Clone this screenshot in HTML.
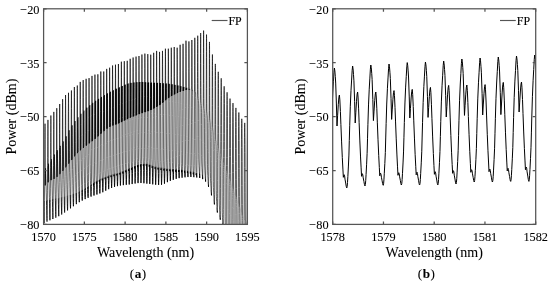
<!DOCTYPE html>
<html><head><meta charset="utf-8"><title>FP spectrum</title>
<style>
html,body{margin:0;padding:0;background:#fff;}
svg{display:block;}
text{font-family:"Liberation Serif",serif;fill:#000;stroke:#000;stroke-width:0.07px;}
.tk{font-size:12.3px;}
.lb{font-size:14px;}
.lg{font-size:11.9px;stroke-width:0.12px;}
.cp{font-size:13.2px;letter-spacing:0.5px;}
</style></head><body>
<svg width="550" height="285" viewBox="0 0 550 285">
<rect width="550" height="285" fill="#fff"/>
<defs>
<clipPath id="ca"><rect x="43.6" y="8.8" width="203.8" height="215.6"/></clipPath>
<path id="wa" d="M41.14 223.34 L41.17 221.53 L41.22 218.65 L41.29 213.6 L41.37 208.19 L41.46 202.78 L41.57 195.57 L41.68 188.35 L41.76 176.22 L41.83 164.09 L41.85 153.17 L41.92 143.47 L41.97 136.19 L42.02 130.43 L42.06 127.7 L42.11 130.73 L42.16 136.8 L42.2 143.47 L42.29 165.3 L42.4 188.35 L42.47 183.19 L42.52 177.41 L42.57 173.81 L42.63 172.71 L42.69 173.65 L42.79 177.41 L42.93 182.1 L43.09 186.01 L43.14 188.35 L43.33 195.28 L43.51 202.2 L43.65 207.39 L43.79 212.58 L43.92 217.43 L43.99 220.2 L44.04 221.93 L44.06 222.97 L44.08 221.85 L44.11 219.98 L44.15 216.98 L44.23 211.75 L44.31 206.14 L44.39 200.53 L44.5 193.05 L44.61 185.57 L44.7 173.19 L44.76 160.82 L44.79 149.68 L44.85 139.79 L44.91 132.36 L44.96 126.48 L45 123.7 L45.05 126.79 L45.1 132.98 L45.14 139.79 L45.23 162.06 L45.34 185.57 L45.4 179.85 L45.46 173.44 L45.5 169.45 L45.56 168.24 L45.63 169.28 L45.73 173.44 L45.87 178.64 L46.02 182.97 L46.08 185.57 L46.26 192.78 L46.45 199.98 L46.59 205.39 L46.72 210.79 L46.85 215.84 L46.93 218.72 L46.97 220.52 L47 221.6 L47.02 220.42 L47.05 218.46 L47.09 215.33 L47.17 209.83 L47.25 203.95 L47.33 198.07 L47.44 190.22 L47.55 182.38 L47.63 169.88 L47.7 157.39 L47.73 146.14 L47.79 136.14 L47.85 128.65 L47.9 122.71 L47.94 119.9 L47.99 123.02 L48.03 129.27 L48.07 136.14 L48.16 158.64 L48.28 182.38 L48.34 176.22 L48.4 169.31 L48.44 165.02 L48.5 163.71 L48.57 164.83 L48.67 169.31 L48.81 174.91 L48.96 179.58 L49.02 182.38 L49.2 189.96 L49.39 197.55 L49.52 203.24 L49.66 208.93 L49.79 214.24 L49.86 217.27 L49.91 219.17 L49.94 220.31 L49.96 219.1 L49.98 217.1 L50.03 213.9 L50.11 208.3 L50.19 202.29 L50.27 196.29 L50.38 188.28 L50.49 180.27 L50.57 167.32 L50.64 154.36 L50.66 142.7 L50.73 132.34 L50.79 124.57 L50.83 118.41 L50.87 115.5 L50.92 118.74 L50.97 125.22 L51.01 132.34 L51.1 155.66 L51.21 180.27 L51.28 173.3 L51.33 165.49 L51.38 160.63 L51.44 159.15 L51.5 160.42 L51.6 165.49 L51.74 171.82 L51.9 177.1 L51.95 180.27 L52.13 188.02 L52.32 195.77 L52.45 201.58 L52.59 207.39 L52.72 212.82 L52.8 215.92 L52.84 217.85 L52.87 219.02 L52.9 217.81 L52.93 215.81 L52.98 212.6 L53.06 206.99 L53.14 200.98 L53.22 194.97 L53.33 186.96 L53.43 178.94 L53.51 165.53 L53.58 152.13 L53.6 140.06 L53.67 129.33 L53.72 121.29 L53.77 114.92 L53.81 111.9 L53.86 115.25 L53.91 121.96 L53.95 129.33 L54.04 153.47 L54.15 178.94 L54.21 170.91 L54.27 161.9 L54.32 156.3 L54.38 154.59 L54.44 156.05 L54.54 161.9 L54.68 169.2 L54.84 175.29 L54.88 178.94 L55.05 186.69 L55.23 194.43 L55.37 200.24 L55.51 206.05 L55.64 211.47 L55.72 214.57 L55.78 216.5 L55.81 217.66 L55.84 216.44 L55.87 214.4 L55.92 211.15 L56.01 205.44 L56.09 199.33 L56.17 193.22 L56.28 185.07 L56.38 176.92 L56.46 163.18 L56.52 149.43 L56.54 137.06 L56.6 126.07 L56.66 117.82 L56.71 111.29 L56.75 108.2 L56.8 111.64 L56.84 118.51 L56.89 126.07 L56.97 150.81 L57.09 176.92 L57.15 168.09 L57.21 158.19 L57.25 152.03 L57.31 150.16 L57.38 151.76 L57.48 158.19 L57.62 166.22 L57.77 172.91 L57.8 176.92 L57.97 184.78 L58.15 192.63 L58.28 198.52 L58.42 204.41 L58.56 209.9 L58.65 213.04 L58.71 215.01 L58.75 216.19 L58.78 214.93 L58.82 212.83 L58.87 209.47 L58.96 203.6 L59.04 197.3 L59.12 191.01 L59.23 182.62 L59.32 174.23 L59.4 160.18 L59.47 146.14 L59.48 133.49 L59.54 122.26 L59.6 113.83 L59.64 107.16 L59.69 104 L59.73 107.51 L59.78 114.53 L59.82 122.26 L59.91 147.54 L60.02 174.23 L60.09 164.86 L60.14 154.35 L60.19 147.82 L60.25 145.83 L60.31 147.54 L60.41 154.35 L60.56 162.87 L60.7 169.97 L60.73 174.23 L60.89 182.28 L61.06 190.33 L61.19 196.37 L61.34 202.41 L61.48 208.05 L61.57 211.27 L61.63 213.28 L61.68 214.49 L61.72 213.19 L61.77 211.01 L61.82 207.54 L61.91 201.45 L62 194.93 L62.08 188.41 L62.17 179.72 L62.27 171.03 L62.34 156.66 L62.41 142.3 L62.41 129.37 L62.48 117.88 L62.53 109.26 L62.58 102.43 L62.62 99.2 L62.67 102.79 L62.72 109.97 L62.76 117.88 L62.85 143.73 L62.96 171.03 L63.03 161.23 L63.09 150.24 L63.14 143.41 L63.2 141.33 L63.26 143.11 L63.36 150.24 L63.5 159.15 L63.63 166.57 L63.65 171.03 L63.81 179.33 L63.97 187.63 L64.11 193.85 L64.25 200.07 L64.39 205.88 L64.49 209.2 L64.56 211.27 L64.62 212.52 L64.67 211.17 L64.71 208.92 L64.78 205.31 L64.87 199.01 L64.95 192.26 L65.03 185.51 L65.12 176.5 L65.21 167.5 L65.29 153 L65.35 138.5 L65.35 125.45 L65.41 113.85 L65.47 105.15 L65.52 98.26 L65.56 95 L65.61 98.62 L65.66 105.87 L65.7 113.85 L65.78 139.95 L65.9 167.5 L65.97 157.21 L66.03 145.68 L66.08 138.51 L66.15 136.33 L66.21 138.2 L66.31 145.68 L66.44 155.03 L66.55 162.82 L66.58 167.5 L66.73 176.08 L66.89 184.67 L67.02 191.1 L67.16 197.54 L67.31 203.55 L67.41 206.99 L67.49 209.13 L67.56 210.42 L67.61 209.02 L67.66 206.69 L67.73 202.96 L67.82 196.43 L67.9 189.43 L67.98 182.44 L68.07 173.11 L68.16 163.79 L68.23 149.59 L68.29 135.39 L68.29 122.61 L68.35 111.26 L68.41 102.74 L68.46 95.99 L68.5 92.8 L68.54 96.35 L68.59 103.45 L68.63 111.26 L68.72 136.81 L68.83 163.79 L68.91 152.73 L68.97 140.33 L69.03 132.62 L69.09 130.27 L69.16 132.28 L69.25 140.33 L69.39 150.38 L69.48 158.76 L69.5 163.79 L69.64 172.7 L69.8 181.62 L69.92 188.3 L70.06 194.99 L70.22 201.23 L70.32 204.79 L70.41 207.02 L70.5 208.36 L70.56 206.91 L70.62 204.49 L70.68 200.63 L70.78 193.87 L70.86 186.62 L70.93 179.38 L71.02 169.72 L71.1 160.06 L71.17 146.15 L71.23 132.24 L71.22 119.72 L71.29 108.59 L71.34 100.24 L71.39 93.63 L71.43 90.5 L71.48 93.98 L71.53 100.93 L71.57 108.59 L71.66 133.63 L71.77 160.06 L71.85 148.62 L71.92 135.79 L71.98 127.81 L72.04 125.38 L72.11 127.46 L72.2 135.79 L72.33 146.19 L72.4 154.86 L72.43 160.06 L72.56 169.3 L72.71 178.54 L72.83 185.46 L72.97 192.39 L73.12 198.85 L73.23 202.55 L73.33 204.86 L73.43 206.24 L73.51 204.75 L73.57 202.26 L73.64 198.28 L73.73 191.32 L73.82 183.85 L73.89 176.39 L73.97 166.44 L74.05 156.49 L74.12 142.59 L74.17 128.69 L74.16 116.18 L74.22 105.07 L74.28 96.73 L74.33 90.13 L74.37 87 L74.42 90.47 L74.47 97.42 L74.51 105.07 L74.6 130.08 L74.71 156.49 L74.78 144.81 L74.86 131.72 L74.92 123.58 L74.99 121.1 L75.06 123.23 L75.15 131.72 L75.28 142.33 L75.33 151.18 L75.35 156.49 L75.48 166.01 L75.62 175.54 L75.74 182.69 L75.87 189.83 L76.03 196.5 L76.14 200.32 L76.24 202.7 L76.37 204.13 L76.46 202.6 L76.53 200.05 L76.6 195.98 L76.69 188.85 L76.77 181.22 L76.84 173.58 L76.92 163.4 L76.99 153.22 L77.06 139.67 L77.12 126.13 L77.1 113.94 L77.16 103.11 L77.22 94.98 L77.27 88.55 L77.31 85.5 L77.36 88.89 L77.4 95.66 L77.44 103.11 L77.53 127.48 L77.65 153.22 L77.72 141.35 L77.8 128.05 L77.87 119.78 L77.94 117.27 L78.01 119.42 L78.1 128.05 L78.22 138.84 L78.25 147.83 L78.28 153.22 L78.4 163.01 L78.53 172.81 L78.64 180.16 L78.77 187.51 L78.93 194.37 L79.05 198.29 L79.15 200.73 L79.31 202.2 L79.42 200.65 L79.49 198.06 L79.56 193.92 L79.66 186.66 L79.73 178.9 L79.8 171.13 L79.87 160.77 L79.94 150.41 L80 136.71 L80.06 123.01 L80.03 110.67 L80.1 99.71 L80.16 91.49 L80.2 84.98 L80.24 81.9 L80.29 85.33 L80.34 92.18 L80.38 99.71 L80.47 124.38 L80.58 150.41 L80.66 138.33 L80.74 124.78 L80.82 116.36 L80.89 113.79 L80.95 115.99 L81.04 124.78 L81.16 135.76 L81.18 144.92 L81.2 150.41 L81.31 160.44 L81.44 170.48 L81.54 178 L81.67 185.53 L81.82 192.55 L81.95 196.57 L82.06 199.08 L82.24 200.58 L82.38 199 L82.45 196.37 L82.53 192.16 L82.62 184.79 L82.69 176.9 L82.75 169 L82.82 158.47 L82.88 147.95 L82.95 134.38 L83 120.81 L82.97 108.6 L83.04 97.74 L83.09 89.6 L83.14 83.15 L83.18 80.1 L83.23 83.49 L83.28 90.28 L83.32 97.74 L83.41 122.17 L83.52 147.95 L83.6 135.62 L83.69 121.81 L83.76 113.22 L83.84 110.6 L83.9 112.84 L83.99 121.81 L84.1 133.01 L84.1 142.35 L84.13 147.95 L84.23 158.18 L84.34 168.42 L84.44 176.1 L84.57 183.77 L84.72 190.94 L84.84 195.03 L84.96 197.59 L85.18 199.13 L85.34 197.52 L85.42 194.85 L85.49 190.57 L85.58 183.09 L85.65 175.07 L85.71 167.05 L85.77 156.36 L85.83 145.67 L85.89 132.29 L85.94 118.92 L85.91 106.88 L85.97 96.19 L86.03 88.16 L86.08 81.81 L86.12 78.8 L86.17 82.14 L86.21 88.83 L86.26 96.19 L86.34 120.26 L86.46 145.67 L86.54 133.14 L86.63 119.09 L86.71 110.36 L86.79 107.71 L86.85 109.98 L86.94 119.09 L87.03 130.48 L87.03 139.97 L87.05 145.67 L87.14 156.09 L87.25 166.52 L87.34 174.34 L87.46 182.16 L87.61 189.46 L87.73 193.63 L87.86 196.24 L88.12 197.8 L88.28 196.17 L88.35 193.45 L88.43 189.11 L88.52 181.5 L88.59 173.35 L88.65 165.2 L88.71 154.33 L88.76 143.47 L88.83 130.39 L88.88 117.32 L88.85 105.55 L88.91 95.1 L88.97 87.25 L89.01 81.04 L89.06 78.1 L89.1 81.37 L89.15 87.91 L89.19 95.1 L89.28 118.63 L89.39 143.47 L89.48 130.81 L89.57 116.62 L89.66 107.8 L89.74 105.11 L89.8 107.42 L89.88 116.62 L89.97 128.13 L89.97 137.71 L89.99 143.47 L90.08 154.09 L90.19 164.71 L90.28 172.68 L90.4 180.64 L90.54 188.08 L90.67 192.33 L90.79 194.98 L91.05 196.57 L91.25 191.75 L91.41 186.32 L91.51 176.06 L91.59 163.99 L91.65 149.51 L91.72 135.03 L91.78 115.72 L91.85 100.03 L91.9 89.78 L91.95 80.12 L91.99 75.9 L92.04 79.17 L92.09 85.7 L92.13 92.89 L92.22 116.41 L92.33 141.25 L92.42 128.57 L92.52 114.36 L92.61 105.52 L92.69 102.83 L92.75 107.78 L92.81 119.32 L92.87 132.52 L92.95 149.83 L93.02 165.5 L93.12 177.04 L93.44 185.29 L93.52 183.79 L93.6 184.59 L93.7 187.54 L93.81 191.05 L93.9 193.86 L93.94 195.03 L93.99 195.5 L94.19 190.66 L94.35 185.22 L94.45 174.95 L94.53 162.86 L94.59 148.35 L94.65 133.84 L94.72 114.5 L94.78 98.78 L94.84 88.5 L94.89 78.83 L94.93 74.6 L94.98 77.81 L95.03 84.24 L95.07 91.32 L95.15 114.46 L95.27 138.89 L95.36 126.31 L95.46 112.21 L95.55 103.45 L95.63 100.78 L95.7 105.74 L95.76 117.31 L95.81 130.54 L95.89 147.9 L95.96 163.61 L96.06 175.18 L96.37 183.45 L96.46 181.95 L96.54 182.75 L96.64 185.96 L96.75 189.73 L96.83 192.74 L96.88 194 L96.93 194.5 L97.12 189.69 L97.29 184.28 L97.38 174.07 L97.46 162.05 L97.53 147.62 L97.59 133.2 L97.66 113.97 L97.72 98.34 L97.78 88.12 L97.83 78.51 L97.87 74.3 L97.91 77.4 L97.96 83.6 L98 90.42 L98.09 112.74 L98.2 136.31 L98.3 123.95 L98.4 110.09 L98.5 101.48 L98.58 98.86 L98.65 103.83 L98.7 115.44 L98.76 128.71 L98.84 146.12 L98.9 161.87 L99 173.48 L99.31 181.77 L99.4 180.27 L99.48 181.07 L99.58 184.49 L99.69 188.45 L99.77 191.61 L99.82 192.93 L99.87 193.45 L100.06 188.58 L100.22 183.09 L100.32 172.72 L100.4 160.53 L100.46 145.89 L100.53 131.26 L100.59 111.74 L100.66 95.89 L100.71 85.52 L100.76 75.77 L100.8 71.5 L100.85 74.61 L100.9 80.82 L100.94 87.66 L101.03 110.03 L101.14 133.64 L101.24 121.54 L101.34 107.97 L101.45 99.54 L101.53 96.97 L101.6 101.97 L101.65 113.65 L101.71 126.99 L101.78 144.5 L101.84 160.34 L101.94 172.01 L102.25 180.35 L102.34 178.85 L102.42 179.65 L102.51 183.14 L102.63 187.15 L102.71 190.36 L102.75 191.7 L102.8 192.24 L103 187.41 L103.16 181.97 L103.26 171.71 L103.34 159.64 L103.4 145.15 L103.47 130.66 L103.53 111.34 L103.59 95.65 L103.65 85.38 L103.7 75.73 L103.74 71.5 L103.79 74.48 L103.84 80.44 L103.88 86.99 L103.97 108.44 L104.08 131.08 L104.18 119.22 L104.29 105.93 L104.39 97.66 L104.48 95.15 L104.55 100.19 L104.6 111.95 L104.66 125.39 L104.73 143.04 L104.79 159 L104.88 170.76 L105.18 179.16 L105.27 177.66 L105.35 178.46 L105.45 181.83 L105.56 185.74 L105.64 188.87 L105.69 190.17 L105.74 190.69 L105.94 185.82 L106.1 180.34 L106.19 169.99 L106.27 157.81 L106.34 143.19 L106.4 128.58 L106.47 109.09 L106.53 93.26 L106.59 82.91 L106.64 73.16 L106.68 68.9 L106.73 71.9 L106.77 77.89 L106.81 84.47 L106.9 106.04 L107.02 128.8 L107.12 117.12 L107.23 104.03 L107.34 95.89 L107.43 93.41 L107.49 98.49 L107.55 110.35 L107.6 123.9 L107.67 141.69 L107.73 157.78 L107.82 169.64 L108.12 178.11 L108.21 176.61 L108.29 177.41 L108.39 180.62 L108.5 184.39 L108.58 187.4 L108.63 188.66 L108.68 189.16 L108.87 184.3 L109.03 178.84 L109.13 168.51 L109.21 156.37 L109.28 141.79 L109.34 127.22 L109.4 107.78 L109.47 91.99 L109.53 81.67 L109.57 71.95 L109.61 67.7 L109.66 70.66 L109.71 76.59 L109.75 83.11 L109.84 104.46 L109.95 126.98 L110.06 115.36 L110.17 102.33 L110.29 94.24 L110.38 91.77 L110.44 96.89 L110.5 108.84 L110.55 122.5 L110.62 140.43 L110.67 156.64 L110.76 168.59 L111.06 177.13 L111.15 175.63 L111.23 176.43 L111.32 179.59 L111.44 183.3 L111.52 186.27 L111.57 187.5 L111.61 188 L111.81 183.1 L111.97 177.59 L112.07 167.17 L112.15 154.92 L112.21 140.22 L112.28 125.52 L112.34 105.92 L112.41 90 L112.46 79.59 L112.51 69.79 L112.55 65.5 L112.6 68.51 L112.65 74.52 L112.69 81.14 L112.78 102.8 L112.89 125.66 L113 113.96 L113.12 100.85 L113.24 92.69 L113.33 90.21 L113.39 95.38 L113.45 107.42 L113.5 121.19 L113.56 139.26 L113.62 155.61 L113.7 167.66 L113.99 176.27 L114.08 174.77 L114.16 175.57 L114.26 178.68 L114.37 182.34 L114.45 185.27 L114.5 186.49 L114.55 186.98 L114.75 182.09 L114.91 176.59 L115 166.19 L115.08 153.97 L115.15 139.29 L115.21 124.62 L115.28 105.05 L115.34 89.16 L115.4 78.76 L115.45 68.98 L115.49 64.7 L115.54 67.69 L115.58 73.68 L115.63 80.27 L115.71 101.83 L115.83 124.58 L115.94 112.75 L116.06 99.49 L116.18 91.24 L116.28 88.73 L116.34 93.93 L116.4 106.07 L116.45 119.95 L116.51 138.15 L116.56 154.63 L116.64 166.76 L116.93 175.44 L117.02 173.94 L117.1 174.74 L117.2 177.84 L117.31 181.5 L117.39 184.43 L117.44 185.65 L117.49 186.14 L117.68 181.25 L117.84 175.75 L117.94 165.37 L118.02 153.16 L118.09 138.5 L118.15 123.85 L118.22 104.3 L118.28 88.43 L118.34 78.05 L118.38 68.27 L118.42 64 L118.47 66.97 L118.52 72.92 L118.56 79.47 L118.65 100.88 L118.76 123.49 L118.88 111.56 L119 98.19 L119.13 89.88 L119.23 87.35 L119.29 92.58 L119.35 104.78 L119.4 118.73 L119.45 137.03 L119.5 153.59 L119.58 165.8 L119.87 174.51 L119.96 173.01 L120.04 173.81 L120.13 177.02 L120.25 180.77 L120.33 183.78 L120.38 185.03 L120.42 185.53 L120.62 180.58 L120.78 175 L120.88 164.48 L120.96 152.1 L121.02 137.24 L121.09 122.38 L121.15 102.56 L121.22 86.47 L121.27 75.94 L121.32 66.03 L121.36 61.7 L121.41 64.72 L121.46 70.77 L121.5 77.42 L121.59 99.19 L121.7 122.16 L121.81 110.22 L121.94 96.84 L122.07 88.52 L122.17 85.99 L122.23 91.23 L122.29 103.47 L122.34 117.46 L122.39 135.83 L122.44 152.44 L122.52 164.68 L122.81 173.43 L122.89 171.93 L122.97 172.73 L123.07 176.15 L123.18 180.11 L123.27 183.28 L123.31 184.6 L123.36 185.13 L123.56 180.17 L123.72 174.59 L123.82 164.06 L123.9 151.67 L123.96 136.8 L124.02 121.92 L124.09 102.1 L124.15 85.99 L124.21 75.45 L124.26 65.54 L124.3 61.2 L124.35 64.17 L124.4 70.12 L124.44 76.66 L124.52 98.06 L124.64 120.65 L124.75 108.75 L124.88 95.41 L125.01 87.12 L125.11 84.6 L125.17 89.85 L125.23 102.12 L125.27 116.14 L125.33 134.55 L125.38 151.19 L125.46 163.46 L125.74 172.23 L125.83 170.73 L125.91 171.53 L126.01 175.23 L126.12 179.46 L126.2 182.84 L126.25 184.25 L126.3 184.81 L126.49 179.85 L126.66 174.27 L126.75 163.73 L126.83 151.33 L126.9 136.45 L126.96 121.57 L127.03 101.72 L127.09 85.6 L127.15 75.06 L127.2 65.14 L127.24 60.8 L127.28 63.72 L127.33 69.55 L127.37 75.96 L127.46 96.96 L127.57 119.12 L127.69 107.35 L127.82 94.16 L127.95 85.96 L128.04 83.47 L128.11 88.72 L128.16 100.97 L128.21 114.98 L128.27 133.36 L128.32 149.99 L128.4 162.25 L128.68 171 L128.77 169.5 L128.85 170.3 L128.95 174.3 L129.06 178.8 L129.14 182.4 L129.19 183.9 L129.24 184.49 L129.43 179.47 L129.59 173.81 L129.69 163.13 L129.77 150.56 L129.83 135.47 L129.9 120.39 L129.96 100.28 L130.03 83.94 L130.08 73.25 L130.13 63.2 L130.17 58.8 L130.22 61.75 L130.27 67.64 L130.31 74.12 L130.4 95.34 L130.51 117.74 L130.62 106.22 L130.75 93.31 L130.88 85.29 L130.98 82.85 L131.04 88.06 L131.1 100.23 L131.15 114.13 L131.21 132.39 L131.25 148.9 L131.33 161.07 L131.62 169.76 L131.71 168.26 L131.79 169.06 L131.88 173.31 L132 178.05 L132.08 181.85 L132.12 183.43 L132.17 184.06 L132.37 179 L132.53 173.3 L132.63 162.54 L132.71 149.89 L132.77 134.7 L132.84 119.51 L132.9 99.26 L132.96 82.81 L133.02 72.05 L133.07 61.93 L133.11 57.5 L133.16 60.45 L133.21 66.35 L133.25 72.84 L133.34 94.08 L133.45 116.5 L133.56 105.26 L133.69 92.65 L133.82 84.81 L133.92 82.43 L133.98 87.58 L134.04 99.61 L134.09 113.36 L134.14 131.41 L134.19 147.73 L134.27 159.76 L134.55 168.36 L134.64 166.86 L134.72 167.66 L134.82 172.19 L134.93 177.19 L135.01 181.19 L135.06 182.85 L135.11 183.52 L135.31 178.44 L135.47 172.73 L135.56 161.94 L135.64 149.25 L135.71 134.02 L135.77 118.79 L135.84 98.48 L135.9 81.98 L135.96 71.2 L136.01 61.04 L136.05 56.6 L136.1 59.54 L136.14 65.41 L136.18 71.87 L136.27 93.02 L136.39 115.34 L136.5 104.38 L136.63 92.09 L136.76 84.45 L136.85 82.13 L136.92 87.23 L136.97 99.13 L137.02 112.73 L137.08 130.57 L137.13 146.72 L137.21 158.62 L137.49 167.12 L137.58 165.62 L137.66 166.42 L137.76 171.22 L137.87 176.46 L137.95 180.65 L138 182.4 L138.05 183.1 L138.24 178.02 L138.4 172.3 L138.5 161.49 L138.58 148.78 L138.65 133.53 L138.71 118.28 L138.77 97.94 L138.84 81.42 L138.9 70.62 L138.94 60.45 L138.98 56 L139.03 58.91 L139.08 64.73 L139.12 71.14 L139.21 92.1 L139.32 114.22 L139.44 103.59 L139.56 91.67 L139.69 84.26 L139.79 82 L139.85 87.07 L139.91 98.88 L139.96 112.39 L140.02 130.12 L140.06 146.16 L140.15 157.98 L140.43 166.42 L140.52 164.92 L140.6 165.72 L140.69 170.71 L140.81 176.14 L140.89 180.48 L140.94 182.29 L140.98 183.02 L141.18 177.88 L141.34 172.09 L141.44 161.17 L141.52 148.32 L141.58 132.9 L141.65 117.47 L141.71 96.91 L141.78 80.2 L141.83 69.28 L141.88 59 L141.92 54.5 L141.97 57.43 L142.02 63.3 L142.06 69.76 L142.15 90.88 L142.26 113.18 L142.37 102.92 L142.5 91.41 L142.63 84.26 L142.73 82.08 L142.79 87.12 L142.85 98.87 L142.9 112.31 L142.95 129.94 L143 145.89 L143.08 157.64 L143.36 166.04 L143.45 164.54 L143.53 165.34 L143.63 170.52 L143.74 176.14 L143.82 180.63 L143.87 182.5 L143.92 183.25 L144.12 178.06 L144.28 172.23 L144.37 161.21 L144.45 148.24 L144.52 132.68 L144.58 117.13 L144.65 96.38 L144.71 79.53 L144.77 68.51 L144.82 58.14 L144.86 53.6 L144.91 56.53 L144.95 62.39 L145 68.84 L145.08 89.95 L145.2 112.23 L145.31 102.35 L145.44 91.27 L145.57 84.39 L145.66 82.29 L145.73 87.31 L145.79 99.02 L145.83 112.4 L145.89 129.96 L145.94 145.84 L146.02 157.55 L146.3 165.91 L146.39 164.41 L146.47 165.21 L146.57 170.56 L146.68 176.32 L146.76 180.93 L146.81 182.85 L146.86 183.62 L147.05 178.44 L147.21 172.61 L147.31 161.6 L147.39 148.65 L147.46 133.11 L147.52 117.56 L147.59 96.84 L147.65 80 L147.71 68.99 L147.75 58.63 L147.79 54.1 L147.84 56.96 L147.89 62.67 L147.93 68.95 L148.02 89.51 L148.13 111.21 L148.25 101.74 L148.38 91.13 L148.5 84.53 L148.6 82.52 L148.67 87.57 L148.72 99.35 L148.77 112.81 L148.83 130.49 L148.88 146.48 L148.96 158.26 L149.24 166.67 L149.33 165.17 L149.41 165.97 L149.5 171.19 L149.62 176.83 L149.7 181.35 L149.75 183.23 L149.79 183.98 L149.99 178.81 L150.15 172.99 L150.25 162 L150.33 149.07 L150.39 133.56 L150.46 118.05 L150.52 97.36 L150.59 80.56 L150.64 69.57 L150.69 59.22 L150.73 54.7 L150.78 57.46 L150.83 62.99 L150.87 69.08 L150.96 88.98 L151.07 109.99 L151.18 100.97 L151.31 90.86 L151.44 84.58 L151.54 82.67 L151.6 87.78 L151.66 99.72 L151.71 113.36 L151.76 131.26 L151.81 147.46 L151.89 159.39 L152.18 167.92 L152.26 166.42 L152.34 167.22 L152.44 172.15 L152.55 177.52 L152.64 181.82 L152.68 183.61 L152.73 184.33 L152.93 179.07 L153.09 173.15 L153.19 161.97 L153.27 148.82 L153.33 133.03 L153.39 117.25 L153.46 96.2 L153.52 79.11 L153.58 67.93 L153.63 57.4 L153.67 52.8 L153.72 55.59 L153.77 61.16 L153.81 67.29 L153.89 87.35 L154.01 108.53 L154.12 100.03 L154.25 90.5 L154.38 84.57 L154.48 82.77 L154.54 87.93 L154.6 99.98 L154.64 113.74 L154.7 131.8 L154.75 148.15 L154.83 160.19 L155.11 168.8 L155.2 167.3 L155.28 168.1 L155.38 172.87 L155.49 178.09 L155.57 182.27 L155.62 184.01 L155.67 184.71 L155.86 179.35 L156.03 173.33 L156.12 161.96 L156.2 148.58 L156.27 132.52 L156.33 116.47 L156.4 95.06 L156.46 77.66 L156.52 66.29 L156.57 55.58 L156.61 50.9 L156.65 53.7 L156.7 59.29 L156.74 65.45 L156.83 85.6 L156.94 106.86 L157.06 98.95 L157.19 90.07 L157.32 84.56 L157.41 82.88 L157.48 88.07 L157.53 100.19 L157.58 114.05 L157.64 132.23 L157.69 148.68 L157.77 160.81 L158.05 169.47 L158.14 167.97 L158.22 168.77 L158.32 173.4 L158.43 178.5 L158.51 182.58 L158.56 184.28 L158.61 184.96 L158.8 179.64 L158.96 173.65 L159.06 162.34 L159.14 149.04 L159.2 133.07 L159.27 117.1 L159.33 95.81 L159.4 78.51 L159.45 67.2 L159.5 56.56 L159.54 51.9 L159.59 54.56 L159.64 59.87 L159.68 65.71 L159.77 84.84 L159.88 105.02 L159.99 97.76 L160.12 89.62 L160.25 84.56 L160.35 83.02 L160.41 88.24 L160.47 100.43 L160.52 114.35 L160.58 132.62 L160.62 149.16 L160.7 161.34 L160.99 170.04 L161.08 168.54 L161.16 169.34 L161.25 173.75 L161.37 178.63 L161.45 182.53 L161.49 184.16 L161.54 184.81 L161.74 179.46 L161.9 173.43 L162 162.05 L162.08 148.66 L162.14 132.59 L162.21 116.52 L162.27 95.09 L162.33 77.68 L162.39 66.3 L162.44 55.59 L162.48 50.9 L162.53 53.49 L162.58 58.68 L162.62 64.39 L162.71 83.07 L162.82 102.79 L162.93 96.34 L163.06 89.1 L163.19 84.61 L163.29 83.24 L163.35 88.48 L163.41 100.69 L163.46 114.65 L163.51 132.98 L163.56 149.56 L163.64 161.78 L163.92 170.5 L164.01 169 L164.09 169.8 L164.19 173.7 L164.3 178.11 L164.38 181.63 L164.43 183.1 L164.48 183.69 L164.68 178.29 L164.84 172.22 L164.93 160.74 L165.01 147.24 L165.08 131.04 L165.14 114.85 L165.21 93.25 L165.27 75.7 L165.33 64.22 L165.38 53.42 L165.42 48.7 L165.47 51.28 L165.51 56.43 L165.55 62.09 L165.64 80.64 L165.76 100.22 L165.87 94.71 L166 88.54 L166.13 84.7 L166.22 83.54 L166.29 88.77 L166.34 101 L166.39 114.97 L166.45 133.3 L166.5 149.89 L166.58 162.11 L166.86 170.84 L166.95 169.34 L167.03 170.14 L167.13 173.44 L167.24 177.28 L167.32 180.36 L167.37 181.64 L167.42 182.15 L167.61 176.81 L167.77 170.81 L167.87 159.46 L167.95 146.12 L168.02 130.1 L168.08 114.09 L168.14 92.74 L168.21 75.39 L168.27 64.05 L168.31 53.37 L168.35 48.7 L168.4 51.16 L168.45 56.07 L168.49 61.47 L168.58 79.16 L168.69 97.83 L168.81 93.23 L168.93 88.07 L169.06 84.87 L169.16 83.89 L169.22 89.12 L169.28 101.34 L169.33 115.29 L169.39 133.61 L169.43 150.19 L169.52 162.4 L169.8 171.12 L169.89 169.62 L169.97 170.42 L170.06 173.22 L170.18 176.6 L170.26 179.3 L170.31 180.43 L170.35 180.88 L170.55 175.55 L170.71 169.56 L170.81 158.24 L170.89 144.92 L170.95 128.94 L171.02 112.96 L171.08 91.65 L171.15 74.34 L171.2 63.02 L171.25 52.36 L171.29 47.7 L171.34 50.11 L171.39 54.94 L171.43 60.25 L171.52 77.63 L171.63 95.97 L171.74 92.12 L171.87 87.81 L172 85.13 L172.1 84.32 L172.16 89.54 L172.22 101.73 L172.27 115.66 L172.32 133.95 L172.37 150.49 L172.45 162.68 L172.73 171.39 L172.82 169.89 L172.9 170.69 L173 173.07 L173.11 176.06 L173.19 178.45 L173.24 179.44 L173.29 179.84 L173.49 174.53 L173.65 168.55 L173.74 157.26 L173.82 143.97 L173.89 128.03 L173.95 112.09 L174.02 90.84 L174.08 73.57 L174.14 62.28 L174.19 51.65 L174.23 47 L174.28 49.37 L174.32 54.1 L174.37 59.31 L174.45 76.34 L174.57 94.33 L174.68 91.21 L174.81 87.71 L174.94 85.54 L175.03 84.87 L175.1 90.08 L175.16 102.23 L175.2 116.12 L175.26 134.35 L175.31 150.84 L175.39 162.99 L175.67 171.67 L175.76 170.17 L175.84 170.97 L175.94 172.95 L176.05 175.57 L176.13 177.66 L176.18 178.53 L176.23 178.87 L176.42 173.63 L176.58 167.72 L176.68 156.57 L176.76 143.46 L176.83 127.72 L176.89 111.98 L176.96 90.99 L177.02 73.93 L177.08 62.78 L177.12 52.29 L177.16 47.7 L177.21 49.96 L177.26 54.48 L177.3 59.46 L177.39 75.74 L177.5 92.93 L177.62 90.48 L177.75 87.74 L177.87 86.04 L177.97 85.52 L178.04 90.71 L178.09 102.8 L178.14 116.63 L178.2 134.77 L178.25 151.19 L178.33 163.29 L178.61 171.93 L178.7 170.43 L178.78 171.23 L178.87 172.9 L178.99 175.21 L179.07 177.06 L179.12 177.83 L179.16 178.14 L179.36 172.81 L179.52 166.81 L179.62 155.47 L179.7 142.14 L179.76 126.14 L179.83 110.14 L179.89 88.8 L179.96 71.47 L180.01 60.13 L180.06 49.47 L180.1 44.8 L180.15 47.15 L180.2 51.85 L180.24 57.03 L180.33 73.95 L180.44 91.82 L180.55 89.97 L180.68 87.9 L180.81 86.61 L180.91 86.22 L180.97 91.38 L181.03 103.42 L181.08 117.18 L181.13 135.24 L181.18 151.58 L181.26 163.62 L181.55 172.22 L181.63 170.72 L181.71 171.52 L181.81 172.95 L181.92 175.04 L182.01 176.71 L182.05 177.41 L182.1 177.69 L182.3 172.33 L182.46 166.31 L182.56 154.93 L182.64 141.54 L182.7 125.47 L182.76 109.41 L182.83 87.98 L182.89 70.58 L182.95 59.2 L183 48.49 L183.04 43.8 L183.09 46.15 L183.14 50.85 L183.18 56.02 L183.26 72.95 L183.38 90.82 L183.49 89.54 L183.62 88.11 L183.75 87.22 L183.85 86.95 L183.91 92.09 L183.97 104.08 L184.01 117.78 L184.07 135.76 L184.12 152.03 L184.2 164.02 L184.48 172.58 L184.57 171.08 L184.65 171.88 L184.75 173.07 L184.86 174.94 L184.94 176.44 L184.99 177.06 L185.04 177.31 L185.23 171.84 L185.4 165.7 L185.49 154.08 L185.57 140.42 L185.64 124.03 L185.7 107.64 L185.77 85.78 L185.83 68.02 L185.89 56.41 L185.94 45.48 L185.98 40.7 L186.02 43.16 L186.07 48.09 L186.11 53.51 L186.2 71.24 L186.31 89.96 L186.43 89.25 L186.56 88.45 L186.69 87.96 L186.78 87.8 L186.85 92.92 L186.9 104.85 L186.95 118.49 L187.01 136.4 L187.06 152.59 L187.14 164.53 L187.42 173.05 L187.51 171.55 L187.59 172.35 L187.69 173.31 L187.8 174.97 L187.88 176.29 L187.93 176.84 L187.98 177.06 L188.17 171.63 L188.33 165.53 L188.43 154 L188.51 140.43 L188.57 124.15 L188.64 107.87 L188.7 86.17 L188.77 68.53 L188.82 57 L188.87 46.15 L188.91 41.4 L188.96 43.81 L189.01 48.62 L189.05 53.91 L189.14 71.23 L189.25 89.52 L189.36 89.31 L189.49 89.07 L189.62 88.93 L189.72 88.88 L189.78 93.97 L189.84 105.83 L189.89 119.39 L189.95 137.19 L189.99 153.3 L190.07 165.16 L190.36 173.64 L190.45 172.14 L190.53 172.94 L190.62 173.7 L190.74 175.16 L190.82 176.33 L190.86 176.81 L190.91 177.01 L191.11 171.53 L191.27 165.36 L191.37 153.72 L191.45 140.02 L191.51 123.58 L191.58 107.13 L191.64 85.21 L191.7 67.4 L191.76 55.76 L191.81 44.8 L191.85 40 L191.9 42.51 L191.95 47.54 L191.99 53.07 L192.08 71.17 L192.19 90.28 L192.3 90.28 L192.43 90.28 L192.56 90.28 L192.66 90.28 L192.72 95.32 L192.78 107.09 L192.83 120.54 L192.88 138.19 L192.93 154.16 L193.01 165.93 L193.29 174.34 L193.38 172.84 L193.46 173.64 L193.56 174.22 L193.67 175.52 L193.75 176.56 L193.8 176.99 L193.85 177.16 L194.05 171.59 L194.21 165.32 L194.3 153.47 L194.38 139.53 L194.45 122.81 L194.51 106.09 L194.58 83.79 L194.64 65.67 L194.7 53.83 L194.75 42.68 L194.79 37.8 L194.84 40.55 L194.88 46.04 L194.92 52.08 L195.01 71.86 L195.13 92.74 L195.24 92.7 L195.37 92.66 L195.5 92.63 L195.59 92.62 L195.66 97.57 L195.71 109.13 L195.76 122.33 L195.82 139.66 L195.87 155.34 L195.95 166.89 L196.23 175.14 L196.32 173.64 L196.4 174.44 L196.5 174.87 L196.61 176.02 L196.69 176.95 L196.74 177.33 L196.79 177.48 L196.83 175.03 L196.89 170.94 L196.97 165.22 L197.03 159.49 L197.06 152.95 L197.1 136.6 L197.12 120.25 L197.15 107.98 L197.17 103.9 L197.2 100.63 L197.28 98.17 L197.34 95.72 L197.4 89.72 L197.45 83.72 L197.48 77.71 L197.51 71.71 L197.54 62.71 L197.58 53.71 L197.6 48.9 L197.63 44.7 L197.65 41.7 L197.68 38.7 L197.7 36.9 L197.72 35.7 L197.75 36.9 L197.77 38.7 L197.8 41.7 L197.82 44.7 L197.85 48.9 L197.87 53.71 L197.9 62.71 L197.94 71.71 L197.97 77.71 L198 83.72 L198.04 89.72 L198.11 95.72 L198.25 98.19 L198.46 100.65 L198.54 103.94 L198.57 108.05 L198.62 120.39 L198.64 136.83 L198.7 153.28 L198.76 159.86 L198.98 165.61 L199.31 171.37 L199.57 175.48 L199.72 177.95 L199.76 175.64 L199.83 171.8 L199.91 166.41 L199.97 161.03 L200 154.88 L200.03 139.49 L200.05 124.11 L200.09 112.58 L200.1 108.73 L200.14 105.65 L200.21 103.35 L200.27 101.04 L200.34 94.24 L200.39 87.45 L200.42 80.66 L200.45 73.86 L200.48 63.67 L200.52 53.48 L200.54 48.05 L200.56 43.29 L200.58 39.89 L200.61 36.5 L200.64 34.46 L200.66 33.1 L200.68 34.46 L200.71 36.5 L200.74 39.89 L200.76 43.29 L200.78 48.05 L200.81 53.48 L200.84 63.67 L200.87 73.86 L200.9 80.66 L200.93 87.45 L200.97 94.24 L201.05 101.04 L201.19 103.38 L201.4 105.72 L201.48 108.85 L201.51 112.75 L201.56 124.46 L201.58 140.08 L201.63 155.7 L201.7 161.94 L201.92 167.41 L202.24 172.87 L202.51 176.78 L202.66 179.12 L202.7 176.93 L202.77 173.29 L202.85 168.19 L202.91 163.08 L202.94 157.25 L202.97 142.67 L202.99 128.09 L203.02 117.15 L203.04 113.51 L203.08 110.59 L203.15 108.4 L203.21 106.22 L203.28 98.66 L203.32 91.09 L203.36 83.53 L203.38 75.97 L203.42 64.63 L203.45 53.29 L203.48 47.24 L203.5 41.94 L203.52 38.16 L203.55 34.38 L203.58 32.11 L203.6 30.6 L203.62 32.11 L203.65 34.38 L203.67 38.16 L203.69 41.94 L203.72 47.24 L203.74 53.29 L203.78 64.63 L203.81 75.97 L203.84 83.53 L203.87 91.09 L203.91 98.66 L203.99 106.22 L204.13 108.48 L204.33 110.74 L204.42 113.75 L204.45 117.52 L204.49 128.83 L204.52 143.9 L204.57 158.97 L204.64 165 L204.85 170.28 L205.18 175.55 L205.44 179.32 L205.6 181.58 L205.64 179.48 L205.7 175.97 L205.78 171.06 L205.84 166.15 L205.87 160.54 L205.91 146.5 L205.93 132.47 L205.96 121.95 L205.98 118.44 L206.01 115.63 L206.09 113.53 L206.15 111.42 L206.22 103.74 L206.26 96.06 L206.29 88.38 L206.32 80.69 L206.35 69.17 L206.39 57.65 L206.41 51.5 L206.44 46.12 L206.46 42.28 L206.49 38.44 L206.51 36.14 L206.53 34.6 L206.56 36.14 L206.58 38.44 L206.61 42.28 L206.63 46.12 L206.66 51.5 L206.68 57.65 L206.72 69.17 L206.75 80.69 L206.78 88.38 L206.81 96.06 L206.84 103.74 L206.92 111.42 L207.06 113.69 L207.27 115.95 L207.36 118.97 L207.38 122.74 L207.43 134.06 L207.46 149.15 L207.51 164.24 L207.57 170.28 L207.79 175.56 L208.12 180.84 L208.38 184.62 L208.53 186.88 L208.57 184.82 L208.64 181.39 L208.72 176.58 L208.78 171.78 L208.81 166.28 L208.84 152.55 L208.86 138.82 L208.9 128.52 L208.92 125.08 L208.95 122.34 L209.03 120.28 L209.08 118.22 L209.16 110.59 L209.2 102.95 L209.23 95.32 L209.26 87.69 L209.29 76.24 L209.33 64.8 L209.35 58.69 L209.38 53.35 L209.4 49.53 L209.42 45.72 L209.45 43.43 L209.47 41.9 L209.49 43.43 L209.52 45.72 L209.55 49.53 L209.57 53.35 L209.59 58.69 L209.62 64.8 L209.65 76.24 L209.69 87.69 L209.71 95.32 L209.74 102.95 L209.78 110.59 L209.86 118.22 L210 120.53 L210.21 122.85 L210.29 125.93 L210.32 129.79 L210.37 141.36 L210.39 156.79 L210.44 172.22 L210.51 178.4 L210.73 183.8 L211.06 189.2 L211.32 193.06 L211.47 195.37 L211.51 193.34 L211.57 189.94 L211.65 185.19 L211.7 180.43 L211.73 175 L211.76 161.41 L211.78 147.82 L211.81 137.63 L211.83 134.24 L211.86 131.52 L211.92 129.48 L211.98 127.44 L212.05 120.15 L212.09 112.86 L212.13 105.56 L212.15 98.27 L212.19 87.33 L212.22 76.38 L212.25 70.55 L212.28 65.44 L212.31 61.79 L212.35 58.15 L212.38 55.96 L212.41 54.5 L212.44 55.96 L212.47 58.15 L212.51 61.79 L212.53 65.44 L212.56 70.55 L212.59 76.38 L212.63 87.33 L212.66 98.27 L212.69 105.56 L212.72 112.86 L212.76 120.15 L212.84 127.44 L212.97 129.75 L213.16 132.06 L213.23 135.14 L213.26 138.99 L213.31 150.53 L213.33 165.91 L213.38 181.3 L213.45 187.46 L213.66 192.84 L213.99 198.23 L214.25 202.08 L214.41 204.38 L214.44 202.45 L214.5 199.21 L214.57 194.67 L214.62 190.14 L214.64 184.96 L214.67 172.01 L214.69 159.05 L214.71 149.34 L214.73 146.1 L214.76 143.51 L214.81 141.57 L214.86 139.62 L214.93 132.05 L214.98 124.48 L215.01 116.91 L215.04 109.33 L215.07 97.98 L215.11 86.62 L215.15 80.56 L215.19 75.26 L215.22 71.47 L215.27 67.69 L215.31 65.41 L215.35 63.9 L215.38 65.41 L215.43 67.69 L215.47 71.47 L215.5 75.26 L215.54 80.56 L215.58 86.62 L215.62 97.98 L215.65 109.33 L215.68 116.91 L215.71 124.48 L215.75 132.05 L215.83 139.62 L215.94 141.81 L216.1 144 L216.17 146.91 L216.2 150.56 L216.24 161.49 L216.27 176.06 L216.32 190.64 L216.38 196.47 L216.6 201.57 L216.93 206.67 L217.19 210.31 L217.35 212.5 L217.38 210.59 L217.43 207.4 L217.49 202.94 L217.54 198.48 L217.56 193.38 L217.58 180.63 L217.6 167.88 L217.62 158.32 L217.63 155.14 L217.66 152.59 L217.7 150.67 L217.74 148.76 L217.81 141.07 L217.86 133.37 L217.9 125.67 L217.93 117.98 L217.96 106.43 L218 94.89 L218.04 88.73 L218.09 83.34 L218.13 79.5 L218.19 75.65 L218.24 73.34 L218.28 71.8 L218.33 73.34 L218.38 75.65 L218.43 79.5 L218.48 83.34 L218.52 88.73 L218.56 94.89 L218.61 106.43 L218.64 117.98 L218.67 125.67 L218.7 133.37 L218.74 141.07 L218.82 148.76 L218.92 150.89 L219.05 153.02 L219.11 155.85 L219.14 159.4 L219.18 170.04 L219.21 184.23 L219.26 198.41 L219.32 204.09 L219.54 209.05 L219.87 214.02 L220.13 217.57 L220.28 219.69 L220.31 217.82 L220.36 214.68 L220.41 210.3 L220.46 205.91 L220.47 200.9 L220.5 188.36 L220.51 175.83 L220.53 166.43 L220.54 163.29 L220.56 160.78 L220.59 158.9 L220.63 157.02 L220.7 149.15 L220.75 141.28 L220.78 133.41 L220.81 125.53 L220.85 113.73 L220.89 101.92 L220.94 95.62 L220.99 90.11 L221.04 86.17 L221.11 82.24 L221.17 79.87 L221.22 78.3 L221.27 79.87 L221.33 82.24 L221.4 86.17 L221.45 90.11 L221.5 95.62 L221.55 101.92 L221.59 113.73 L221.63 125.53 L221.66 133.41 L221.69 141.28 L221.73 149.15 L221.81 157.02 L221.89 159.16 L222 161.29 L222.05 164.13 L222.08 167.69 L222.12 178.36 L222.14 192.58 L222.19 206.8 L222.26 212.49 L222.47 217.46 L222.8 222.44 L223.07 226 L223.22 228.13 L223.25 226.25 L223.29 223.12 L223.34 218.73 L223.37 214.34 L223.39 209.33 L223.41 196.79 L223.42 184.25 L223.43 174.84 L223.44 171.71 L223.46 169.2 L223.49 167.32 L223.51 165.44 L223.58 157.53 L223.63 149.61 L223.67 141.7 L223.7 133.78 L223.74 121.91 L223.79 110.04 L223.84 103.71 L223.9 98.17 L223.95 94.21 L224.03 90.26 L224.1 87.88 L224.16 86.3 L224.22 87.88 L224.29 90.26 L224.36 94.21 L224.42 98.17 L224.48 103.71 L224.53 110.04 L224.58 121.91 L224.61 133.78 L224.64 141.7 L224.68 149.61 L224.72 157.53 L224.8 165.44 L224.86 167.63 L224.95 169.82 L224.99 172.74 L225.01 176.39 L225.06 187.33 L225.08 201.92 L225.13 216.52 L225.19 222.35 L225.41 227.46 L225.74 232.57 L226 236.22 L226.16 238.41 L226.18 236.46 L226.22 233.22 L226.28 228.68 L226.31 224.13 L226.33 218.94 L226.35 205.96 L226.36 192.99 L226.37 183.25 L226.38 180.01 L226.39 177.41 L226.42 175.46 L226.45 173.52 L226.52 165.4 L226.57 157.27 L226.61 149.15 L226.64 141.03 L226.67 128.85 L226.72 116.67 L226.77 110.17 L226.84 104.48 L226.89 100.42 L226.96 96.36 L227.04 93.92 L227.09 92.3 L227.15 93.92 L227.22 96.36 L227.3 100.42 L227.35 104.48 L227.41 110.17 L227.46 116.67 L227.51 128.85 L227.55 141.03 L227.58 149.15 L227.61 157.27 L227.66 165.4 L227.74 173.52 L227.8 175.68 L227.89 177.83 L227.93 180.71 L227.95 184.31 L227.99 195.1 L228.02 209.49 L228.07 223.88 L228.13 229.63 L228.35 234.67 L228.68 239.71 L228.94 243.3 L229.09 245.46 L229.12 243.55 L229.16 240.35 L229.21 235.88 L229.25 231.41 L229.27 226.3 L229.28 213.52 L229.29 200.75 L229.31 191.17 L229.32 187.97 L229.33 185.42 L229.36 183.5 L229.39 181.59 L229.45 173.29 L229.51 164.99 L229.55 156.69 L229.58 148.39 L229.61 135.94 L229.66 123.5 L229.71 116.86 L229.77 111.05 L229.83 106.9 L229.9 102.75 L229.97 100.26 L230.03 98.6 L230.09 100.26 L230.16 102.75 L230.23 106.9 L230.29 111.05 L230.35 116.86 L230.4 123.5 L230.45 135.94 L230.48 148.39 L230.51 156.69 L230.55 164.99 L230.6 173.29 L230.68 181.59 L230.74 183.64 L230.82 185.69 L230.86 188.43 L230.89 191.85 L230.93 202.12 L230.95 215.81 L231.01 229.5 L231.07 234.97 L231.28 239.76 L231.61 244.55 L231.88 247.97 L232.03 250.03 L232.06 248.22 L232.1 245.2 L232.15 240.97 L232.19 236.75 L232.2 231.92 L232.22 219.85 L232.23 207.77 L232.25 198.72 L232.25 195.7 L232.27 193.28 L232.3 191.47 L232.32 189.66 L232.39 181.01 L232.44 172.35 L232.48 163.69 L232.51 155.04 L232.55 142.05 L232.6 129.07 L232.65 122.14 L232.71 116.08 L232.76 111.76 L232.84 107.43 L232.91 104.83 L232.97 103.1 L233.03 104.83 L233.1 107.43 L233.17 111.76 L233.23 116.08 L233.29 122.14 L233.34 129.07 L233.39 142.05 L233.42 155.04 L233.45 163.69 L233.49 172.35 L233.53 181.01 L233.61 189.66 L233.67 191.55 L233.76 193.44 L233.8 195.95 L233.83 199.1 L233.87 208.54 L233.89 221.12 L233.94 233.7 L234.01 238.74 L234.22 243.14 L234.55 247.54 L234.81 250.69 L234.97 252.58 L234.99 250.93 L235.03 248.19 L235.09 244.35 L235.12 240.51 L235.14 236.13 L235.16 225.16 L235.17 214.19 L235.18 205.96 L235.19 203.22 L235.21 201.03 L235.23 199.38 L235.26 197.74 L235.33 188.75 L235.38 179.77 L235.42 170.79 L235.45 161.8 L235.49 148.33 L235.53 134.85 L235.58 127.66 L235.65 121.38 L235.7 116.88 L235.78 112.39 L235.85 109.7 L235.91 107.9 L235.96 109.7 L236.03 112.39 L236.11 116.88 L236.16 121.38 L236.23 127.66 L236.28 134.85 L236.32 148.33 L236.36 161.8 L236.39 170.79 L236.42 179.77 L236.47 188.75 L236.55 197.74 L236.61 199.45 L236.7 201.17 L236.74 203.45 L236.76 206.31 L236.8 214.88 L236.83 226.31 L236.88 237.73 L236.94 242.3 L237.16 246.3 L237.49 250.3 L237.75 253.16 L237.9 254.87 L237.93 253.4 L237.97 250.96 L238.02 247.53 L238.06 244.1 L238.08 240.18 L238.09 230.38 L238.1 220.58 L238.12 213.23 L238.13 210.78 L238.14 208.82 L238.17 207.35 L238.2 205.88 L238.27 196.54 L238.32 187.21 L238.36 177.87 L238.39 168.53 L238.42 154.52 L238.47 140.51 L238.52 133.04 L238.58 126.51 L238.64 121.84 L238.71 117.17 L238.78 114.37 L238.84 112.5 L238.9 114.37 L238.97 117.17 L239.05 121.84 L239.1 126.51 L239.16 133.04 L239.21 140.51 L239.26 154.52 L239.3 168.53 L239.33 177.87 L239.36 187.21 L239.4 196.54 L239.49 205.88 L239.55 207.41 L239.63 208.94 L239.68 210.98 L239.7 213.53 L239.74 221.18 L239.76 231.39 L239.82 241.59 L239.88 245.67 L240.09 249.24 L240.42 252.81 L240.69 255.36 L240.84 256.89 L240.87 255.61 L240.91 253.46 L240.96 250.46 L241 247.46 L241.01 244.03 L241.03 235.45 L241.04 226.87 L241.06 220.44 L241.07 218.3 L241.08 216.58 L241.11 215.3 L241.13 214.01 L241.21 204.49 L241.26 194.97 L241.3 185.45 L241.33 175.93 L241.36 161.64 L241.41 147.36 L241.46 139.75 L241.52 133.08 L241.58 128.32 L241.65 123.56 L241.72 120.7 L241.78 118.8 L241.84 120.7 L241.91 123.56 L241.98 128.32 L242.04 133.08 L242.1 139.75 L242.15 147.36 L242.2 161.64 L242.23 175.93 L242.26 185.45 L242.29 194.97 L242.34 204.49 L242.42 214.01 L242.48 215.35 L242.57 216.69 L242.61 218.47 L242.64 220.7 L242.68 227.39 L242.7 236.31 L242.75 245.23 L242.82 248.8 L243.03 251.92 L243.36 255.04 L243.62 257.27 L243.78 258.61 L243.8 257.51 L243.85 255.67 L243.9 253.1 L243.93 250.53 L243.95 247.6 L243.97 240.25 L243.98 232.91 L243.99 227.4 L244 225.56 L244.02 224.1 L244.05 222.99 L244.07 221.89 L244.15 211.99 L244.2 202.09 L244.23 192.19 L244.26 182.3 L244.3 167.45 L244.35 152.6 L244.4 144.68 L244.46 137.75 L244.51 132.8 L244.59 127.85 L244.66 124.88 L244.72 122.9 L244.77 124.88 L244.85 127.85 L244.92 132.8 L244.97 137.75 L245.04 144.68 L245.09 152.6 L245.14 167.45 L245.17 182.3 L245.2 192.19 L245.23 202.09 L245.27 211.99 L245.36 221.89 L245.42 223.04 L245.51 224.18 L245.55 225.7 L245.57 227.61 L245.61 233.33 L245.64 240.95 L245.69 248.57 L245.75 251.62 L245.97 254.29 L246.3 256.96 L246.56 258.86 L246.72 260 L246.74 259.09 L246.78 257.57 L246.83 255.44 L246.87 253.31 L246.89 250.87 L246.9 244.79 L246.91 238.7 L246.93 234.14 L246.94 232.61 L246.95 231.4 L246.99 230.48 L247.01 229.57 L247.09 219.3 L247.14 209.04 L247.17 198.77 L247.2 188.5 L247.23 173.1 L247.28 157.7 L247.33 149.49 L247.39 142.3 L247.45 137.17 L247.52 132.03 L247.59 128.95 L247.65 126.9 L247.71 128.95 L247.78 132.03 L247.86 137.17 L247.91 142.3 L247.97 149.49 L248.02 157.7 L248.07 173.1 L248.11 188.5 L248.14 198.77 L248.17 209.04 L248.21 219.3 L248.3 229.57 L248.35 230.51 L248.44 231.46 L248.49 232.72 L248.51 234.29 L248.55 239.01 L248.58 245.31 L248.63 251.61 L248.69 254.12 L248.91 256.33 L249.24 258.53 L249.5 260.1 L249.65 261.05"/>
<clipPath id="cu"><path d="M41.6 0 L249.4 0 L249.4 224.4 L247.65 224.4 L245.91 224.4 L244.16 219.93 L242.42 215.24 L240.67 210.45 L238.92 205.61 L237.18 200.75 L235.43 195.93 L233.68 191.13 L231.94 186.33 L230.19 181.53 L228.45 176.72 L226.7 171.94 L224.95 167.15 L223.21 162.25 L221.46 157.22 L219.71 152.19 L217.97 147.4 L216.22 142.23 L214.48 135.55 L212.73 128.17 L210.98 122.19 L209.24 117.08 L207.49 112.88 L205.74 109.43 L204 106.39 L202.25 103.44 L200.51 100.24 L198.76 96.97 L197.01 94.18 L195.27 92.33 L193.52 90.96 L191.77 89.87 L190.03 89.01 L188.28 88.32 L186.54 87.73 L184.79 87.21 L183.04 86.74 L181.3 86.31 L179.55 85.89 L177.81 85.48 L176.06 85.09 L174.31 84.73 L172.57 84.4 L170.82 84.12 L169.07 83.88 L167.33 83.66 L165.58 83.47 L163.84 83.29 L162.09 83.14 L160.34 83.02 L158.6 82.93 L156.85 82.85 L155.1 82.79 L153.36 82.73 L151.61 82.67 L149.87 82.59 L148.12 82.48 L146.37 82.35 L144.63 82.21 L142.88 82.09 L141.13 82.02 L139.39 82.01 L137.64 82.07 L135.9 82.21 L134.15 82.4 L132.4 82.63 L130.66 82.9 L128.91 83.22 L127.16 83.76 L125.42 84.46 L123.67 85.26 L121.93 86.1 L120.18 86.92 L118.43 87.71 L116.69 88.54 L114.94 89.4 L113.19 90.3 L111.45 91.22 L109.7 92.16 L107.96 93.14 L106.21 94.15 L104.46 95.2 L102.72 96.27 L100.97 97.38 L99.23 98.5 L97.48 99.63 L95.73 100.78 L93.99 101.98 L92.24 103.24 L90.49 104.6 L88.75 106.06 L87 107.63 L85.26 109.32 L83.51 111.1 L81.76 112.99 L80.02 114.98 L78.27 117.07 L76.52 119.29 L74.78 121.66 L73.03 124.18 L71.29 126.88 L69.54 129.82 L67.79 133.4 L66.05 136.92 L64.3 139.91 L62.55 142.7 L60.81 145.36 L59.06 147.94 L57.32 150.51 L55.57 153.13 L53.82 155.82 L52.08 158.53 L50.33 161.24 L48.58 163.95 L46.84 166.65 L45.09 169.33 L43.35 171.99 L41.6 174.63Z"/></clipPath>
<clipPath id="cm"><path d="M115 89.37 L118.45 87.71 L121.89 86.12 L125.34 84.49 L128.78 83.26 L132.23 82.66 L135.68 82.23 L139.12 82.01 L142.57 82.07 L146.02 82.32 L149.46 82.57 L152.91 82.72 L156.35 82.84 L159.8 82.99 L163.25 83.24 L166.69 83.59 L170.14 84.02 L173.58 84.59 L177.03 85.31 L180.48 86.11 L183.92 86.97 L187.37 88 L190.82 89.37 L194.26 91.5 L197.71 95.19 L201.15 101.47 L204.6 107.41 L208.05 114.11 L211.49 123.82 L214.94 137.49 L218.38 148.54 L221.83 158.29 L225.28 168.05 L228.72 177.49 L232.17 186.97 L235.62 196.44 L239.06 205.99 L242.51 215.5 L245.95 224.4 L249.4 224.4 L249.4 224.4 L245.95 224.4 L242.51 216 L239.06 206.49 L235.62 196.94 L232.17 187.47 L228.72 177.99 L225.28 168.55 L221.83 158.79 L218.38 149.04 L214.94 137.99 L211.49 124.32 L208.05 114.61 L204.6 107.91 L201.15 101.97 L197.71 95.69 L194.26 91.85 L190.82 89.61 L187.37 89.76 L183.92 90.66 L180.48 91.84 L177.03 93.17 L173.58 94.9 L170.14 96.91 L166.69 99.48 L163.25 102.49 L159.8 105.13 L156.35 107.26 L152.91 109.14 L149.46 110.73 L146.02 111.98 L142.57 113.11 L139.12 114.33 L135.68 115.64 L132.23 117.04 L128.78 118.56 L125.34 120.32 L121.89 122.11 L118.45 123.65 L115 124.9Z"/></clipPath>
<clipPath id="cm1"><path d="M41.6 174.63 L42.71 172.95 L43.83 171.26 L44.94 169.57 L46.05 167.86 L47.16 166.15 L48.28 164.43 L49.39 162.71 L50.5 160.98 L51.62 159.25 L52.73 157.52 L53.84 155.79 L54.95 154.07 L56.07 152.37 L57.18 150.71 L58.29 149.07 L59.41 147.44 L60.52 145.79 L61.63 144.12 L62.74 142.41 L63.86 140.64 L64.97 138.79 L66.08 136.85 L67.19 134.66 L68.31 132.3 L69.42 130.04 L70.53 128.11 L71.65 126.31 L72.76 124.59 L73.87 122.94 L74.98 121.37 L76.1 119.86 L77.21 118.4 L78.32 117.01 L79.44 115.66 L80.55 114.36 L81.66 113.11 L82.77 111.89 L83.89 110.71 L85 109.57 L85 146.84 L83.89 147.72 L82.77 148.62 L81.66 149.55 L80.55 150.51 L79.44 151.52 L78.32 152.61 L77.21 153.76 L76.1 154.98 L74.98 156.26 L73.87 157.58 L72.76 158.94 L71.65 160.32 L70.53 161.73 L69.42 163.14 L68.31 164.56 L67.19 165.97 L66.08 167.37 L64.97 168.74 L63.86 170.08 L62.74 171.37 L61.63 172.62 L60.52 173.8 L59.41 174.92 L58.29 175.96 L57.18 176.91 L56.07 177.77 L54.95 178.53 L53.84 179.14 L52.73 179.64 L51.62 180.12 L50.5 180.69 L49.39 181.45 L48.28 182.46 L47.16 183.63 L46.05 184.87 L44.94 186.08 L43.83 187.16 L42.71 188.15 L41.6 189.11Z"/></clipPath>
<clipPath id="cm2"><path d="M85 109.57 L85.77 108.81 L86.54 108.07 L87.31 107.35 L88.08 106.65 L88.85 105.97 L89.62 105.32 L90.38 104.69 L91.15 104.07 L91.92 103.48 L92.69 102.91 L93.46 102.35 L94.23 101.81 L95 101.28 L95.77 100.76 L96.54 100.25 L97.31 99.74 L98.08 99.24 L98.85 98.74 L99.62 98.25 L100.38 97.75 L101.15 97.26 L101.92 96.77 L102.69 96.29 L103.46 95.81 L104.23 95.34 L105 94.87 L105.77 94.41 L106.54 93.96 L107.31 93.51 L108.08 93.07 L108.85 92.64 L109.62 92.21 L110.38 91.79 L111.15 91.38 L111.92 90.96 L112.69 90.56 L113.46 90.16 L114.23 89.76 L115 89.37 L115 124.9 L114.23 125.18 L113.46 125.47 L112.69 125.77 L111.92 126.09 L111.15 126.43 L110.38 126.8 L109.62 127.21 L108.85 127.65 L108.08 128.13 L107.31 128.65 L106.54 129.2 L105.77 129.78 L105 130.39 L104.23 131.02 L103.46 131.67 L102.69 132.34 L101.92 133.02 L101.15 133.7 L100.38 134.4 L99.62 135.1 L98.85 135.8 L98.08 136.49 L97.31 137.18 L96.54 137.86 L95.77 138.53 L95 139.18 L94.23 139.81 L93.46 140.43 L92.69 141.03 L91.92 141.62 L91.15 142.21 L90.38 142.79 L89.62 143.36 L88.85 143.94 L88.08 144.51 L87.31 145.09 L86.54 145.67 L85.77 146.25 L85 146.84Z"/></clipPath>
<clipPath id="cl"><path d="M41.6 189.11 L43.35 187.59 L45.09 185.92 L46.84 183.99 L48.58 182.16 L50.33 180.79 L52.08 179.92 L53.82 179.15 L55.57 178.12 L57.32 176.8 L59.06 175.25 L60.81 173.5 L62.55 171.59 L64.3 169.55 L66.05 167.41 L67.79 165.22 L69.54 162.99 L71.29 160.78 L73.03 158.6 L74.78 156.5 L76.52 154.51 L78.27 152.66 L80.02 150.98 L81.76 149.46 L83.51 148.02 L85.26 146.65 L87 145.32 L88.75 144.01 L90.49 142.7 L92.24 141.38 L93.99 140.01 L95.73 138.56 L97.48 137.03 L99.23 135.45 L100.97 133.87 L102.72 132.31 L104.46 130.83 L106.21 129.45 L107.96 128.21 L109.7 127.16 L111.45 126.3 L113.19 125.57 L114.94 124.92 L116.69 124.3 L118.43 123.65 L120.18 122.92 L121.93 122.09 L123.67 121.2 L125.42 120.28 L127.16 119.37 L128.91 118.5 L130.66 117.71 L132.4 116.97 L134.15 116.25 L135.9 115.56 L137.64 114.89 L139.39 114.23 L141.13 113.59 L142.88 113 L144.63 112.44 L146.37 111.86 L148.12 111.25 L149.87 110.56 L151.61 109.77 L153.36 108.91 L155.1 107.97 L156.85 106.97 L158.6 105.9 L160.34 104.77 L162.09 103.46 L163.84 101.98 L165.58 100.44 L167.33 98.95 L169.07 97.61 L170.82 96.5 L172.57 95.47 L174.31 94.51 L176.06 93.62 L177.81 92.83 L179.55 92.15 L181.3 91.56 L183.04 90.96 L184.79 90.4 L186.54 89.93 L188.28 89.61 L190.03 89.5 L191.77 89.99 L193.52 91.2 L195.27 92.8 L197.01 94.68 L198.76 97.47 L200.51 100.74 L202.25 103.94 L204 106.89 L205.74 109.93 L207.49 113.38 L209.24 117.58 L210.98 122.69 L212.73 128.67 L214.48 136.05 L216.22 142.73 L217.97 147.9 L219.71 152.69 L221.46 157.72 L223.21 162.75 L224.95 167.65 L226.7 172.44 L228.45 177.22 L230.19 182.03 L231.94 186.83 L233.68 191.63 L235.43 196.43 L237.18 201.25 L238.92 206.11 L240.67 210.95 L242.42 215.74 L244.16 220.43 L245.91 224.4 L247.65 224.4 L249.4 224.4 L249.4 225.4 L247.65 225.4 L245.91 225.4 L244.16 225.4 L242.42 225.4 L240.67 225.4 L238.92 225.4 L237.18 225.4 L235.43 225.4 L233.68 225.4 L231.94 225.4 L230.19 225.4 L228.45 225.4 L226.7 225.4 L224.95 225.4 L223.21 225.08 L221.46 219.55 L219.71 215.29 L217.97 211.04 L216.22 206.6 L214.48 201.59 L212.73 196.22 L210.98 190.81 L209.24 185.59 L207.49 181.59 L205.74 178.66 L204 176.61 L202.25 175.15 L200.51 174.22 L198.76 173.47 L197.01 172.86 L195.27 172.34 L193.52 171.88 L191.77 171.44 L190.03 171.05 L188.28 170.7 L186.54 170.38 L184.79 170.11 L183.04 169.88 L181.3 169.68 L179.55 169.51 L177.81 169.35 L176.06 169.19 L174.31 169.03 L172.57 168.86 L170.82 168.71 L169.07 168.55 L167.33 168.38 L165.58 168.2 L163.84 167.98 L162.09 167.72 L160.34 167.41 L158.6 167.06 L156.85 166.68 L155.1 166.27 L153.36 165.82 L151.61 165.15 L149.87 164.39 L148.12 163.75 L146.37 163.41 L144.63 163.44 L142.88 163.6 L141.13 163.83 L139.39 164.11 L137.64 164.6 L135.9 165.29 L134.15 166.09 L132.4 166.93 L130.66 167.73 L128.91 168.44 L127.16 169.17 L125.42 169.9 L123.67 170.62 L121.93 171.3 L120.18 171.94 L118.43 172.51 L116.69 173.03 L114.94 173.53 L113.19 174.02 L111.45 174.54 L109.7 175.1 L107.96 175.69 L106.21 176.31 L104.46 176.97 L102.72 177.69 L100.97 178.48 L99.23 179.37 L97.48 180.34 L95.73 181.39 L93.99 182.49 L92.24 183.62 L90.49 184.77 L88.75 185.92 L87 187.05 L85.26 188.13 L83.51 189.17 L81.76 190.13 L80.02 190.99 L78.27 191.79 L76.52 192.56 L74.78 193.29 L73.03 193.97 L71.29 194.59 L69.54 195.14 L67.79 195.63 L66.05 196.09 L64.3 196.51 L62.55 196.91 L60.81 197.31 L59.06 197.72 L57.32 198.1 L55.57 198.46 L53.82 198.81 L52.08 199.16 L50.33 199.51 L48.58 199.89 L46.84 200.28 L45.09 200.71 L43.35 201.18 L41.6 201.73Z"/></clipPath>
<clipPath id="ct"><path d="M90.6 300 L249.4 300 L249.4 225.4 L247.8 225.4 L246.19 225.4 L244.59 225.4 L242.98 225.4 L241.38 225.4 L239.78 225.4 L238.17 225.4 L236.57 225.4 L234.96 225.4 L233.36 225.4 L231.76 225.4 L230.15 225.4 L228.55 225.4 L226.94 225.4 L225.34 225.4 L223.74 225.4 L222.13 221.39 L220.53 217.28 L218.92 213.36 L217.32 209.43 L215.72 205.21 L214.11 200.48 L212.51 195.54 L210.9 190.56 L209.3 185.75 L207.69 182.02 L206.09 179.13 L204.49 177.13 L202.88 175.6 L201.28 174.6 L199.67 173.84 L198.07 173.21 L196.47 172.69 L194.86 172.23 L193.26 171.81 L191.65 171.42 L190.05 171.05 L188.45 170.73 L186.84 170.43 L185.24 170.18 L183.63 169.95 L182.03 169.76 L180.43 169.59 L178.82 169.44 L177.22 169.3 L175.61 169.15 L174.01 169 L172.41 168.85 L170.8 168.7 L169.2 168.56 L167.59 168.41 L165.99 168.24 L164.39 168.05 L162.78 167.83 L161.18 167.56 L159.57 167.26 L157.97 166.93 L156.37 166.57 L154.76 166.19 L153.16 165.75 L151.55 165.12 L149.95 164.43 L148.35 163.82 L146.74 163.45 L145.14 163.42 L143.53 163.53 L141.93 163.72 L140.33 163.95 L138.72 164.27 L137.12 164.79 L135.51 165.46 L133.91 166.21 L132.31 166.98 L130.7 167.71 L129.1 168.37 L127.49 169.03 L125.89 169.7 L124.28 170.37 L122.68 171.01 L121.08 171.62 L119.47 172.18 L117.87 172.68 L116.26 173.15 L114.66 173.61 L113.06 174.06 L111.45 174.54 L109.85 175.05 L108.24 175.59 L106.64 176.16 L105.04 176.75 L103.43 177.39 L101.83 178.08 L100.22 178.84 L98.62 179.69 L97.02 180.61 L95.41 181.59 L93.81 182.6 L92.2 183.65 L90.6 184.7Z"/></clipPath>
<clipPath id="ct0"><path d="M41.6 300 L70 300 L70 195 L68.51 195.44 L67.01 195.84 L65.52 196.22 L64.02 196.57 L62.53 196.92 L61.03 197.26 L59.54 197.61 L58.04 197.94 L56.55 198.26 L55.05 198.56 L53.56 198.86 L52.06 199.16 L50.57 199.47 L49.07 199.78 L47.58 200.11 L46.08 200.46 L44.59 200.84 L43.09 201.26 L41.6 201.73Z"/></clipPath>
<clipPath id="ct1"><path d="M70 300 L80 300 L80 191 L78.89 191.51 L77.78 192.01 L76.67 192.5 L75.56 192.97 L74.44 193.42 L73.33 193.85 L72.22 194.26 L71.11 194.64 L70 195Z"/></clipPath>
<clipPath id="ct2"><path d="M80 300 L90.6 300 L90.6 184.7 L89.42 185.48 L88.24 186.25 L87.07 187 L85.89 187.74 L84.71 188.46 L83.53 189.15 L82.36 189.81 L81.18 190.43 L80 191Z"/></clipPath>
<clipPath id="cb"><rect x="332.7" y="8.8" width="203" height="215.6"/></clipPath>
</defs>
<g clip-path="url(#ca)" fill="none" stroke="#000" stroke-linejoin="round"><g clip-path="url(#cl)"><use href="#wa" stroke-width="0.6"/></g><g clip-path="url(#cu)"><use href="#wa" stroke-width="0.66"/></g><g clip-path="url(#cm)"><use href="#wa" stroke-width="0.9"/></g><g clip-path="url(#cm1)"><use href="#wa" stroke-width="0.7"/></g><g clip-path="url(#cm2)"><use href="#wa" stroke-width="0.8"/></g><g clip-path="url(#ct)"><use href="#wa" stroke-width="0.9"/></g><g clip-path="url(#ct0)"><use href="#wa" stroke-width="0.8"/></g><g clip-path="url(#ct1)"><use href="#wa" stroke-width="0.84"/></g><g clip-path="url(#ct2)"><use href="#wa" stroke-width="0.87"/></g></g>
<g clip-path="url(#cb)"><path d="M310.74 186.56 L311.09 182.6 L311.44 176.6 L311.99 166.4 L312.49 155.6 L312.89 141.2 L313.29 126.8 L313.89 107.6 L314.59 92 L315.19 81.8 L315.74 72.2 L316.19 68 L316.64 70.9 L317.09 76.7 L317.49 83.08 L318.19 103.96 L318.79 126 L319.39 115.77 L320.09 104.3 L320.69 97.17 L321.19 95 L321.64 99.94 L322.19 111.46 L322.69 124.63 L323.39 141.91 L324.09 157.55 L324.69 169.07 L325.14 177.3 L325.49 175.9 L325.94 174.7 L326.39 175.9 L326.79 179.16 L327.49 183.06 L327.99 186.18 L328.29 187.48 L328.59 188 L328.95 186.56 L329.3 182.6 L329.65 176.6 L330.2 166.4 L330.7 155.6 L331.1 141.2 L331.5 126.8 L332.1 107.6 L332.8 92 L333.4 81.8 L333.95 72.2 L334.4 68 L334.85 70.9 L335.3 76.7 L335.7 83.08 L336.4 103.96 L337 126 L337.6 115.77 L338.3 104.3 L338.9 97.17 L339.4 95 L339.85 99.94 L340.4 111.46 L340.9 124.63 L341.6 141.91 L342.3 157.55 L342.9 169.07 L343.35 177.3 L343.7 175.9 L344.15 174.7 L344.6 175.9 L345 179.16 L345.7 183.06 L346.2 186.18 L346.5 187.48 L346.8 188 L347.16 186.54 L347.51 182.51 L347.86 176.41 L348.41 166.04 L348.91 155.06 L349.31 140.42 L349.71 125.78 L350.31 106.26 L351.01 90.4 L351.61 80.03 L352.16 70.27 L352.61 66 L353.06 68.85 L353.51 74.55 L353.91 80.82 L354.61 101.34 L355.21 123 L355.81 112.77 L356.51 101.3 L357.11 94.17 L357.61 92 L358.06 97.06 L358.61 108.86 L359.11 122.35 L359.81 140.05 L360.51 156.07 L361.11 167.87 L361.56 176.3 L361.91 174.9 L362.36 173.7 L362.81 174.9 L363.21 177.84 L363.91 181.44 L364.41 184.32 L364.71 185.52 L365.01 186 L365.37 184.55 L365.72 180.56 L366.07 174.5 L366.62 164.22 L367.12 153.33 L367.52 138.81 L367.92 124.29 L368.52 104.93 L369.22 89.2 L369.82 78.91 L370.37 69.23 L370.82 65 L371.27 67.78 L371.72 73.34 L372.12 79.46 L372.82 99.47 L373.42 120.6 L374.02 111.16 L374.72 100.58 L375.32 94 L375.82 92 L376.27 97.03 L376.82 108.76 L377.32 122.17 L378.02 139.77 L378.72 155.69 L379.32 167.42 L379.77 175.8 L380.12 174.4 L380.57 173.2 L381.02 174.4 L381.42 177.28 L382.12 180.82 L382.62 183.65 L382.92 184.83 L383.22 185.3 L383.58 183.84 L383.93 179.84 L384.28 173.78 L384.83 163.47 L385.33 152.55 L385.73 137.99 L386.13 123.44 L386.73 104.03 L387.43 88.26 L388.03 77.95 L388.58 68.25 L389.03 64 L389.48 66.77 L389.93 72.31 L390.33 78.4 L391.03 98.35 L391.63 119.4 L392.23 109.9 L392.93 99.24 L393.53 92.62 L394.03 90.6 L394.48 95.68 L395.03 107.54 L395.53 121.09 L396.23 138.88 L396.93 154.97 L397.53 166.83 L397.98 175.3 L398.33 173.9 L398.78 172.7 L399.23 173.9 L399.63 176.84 L400.33 180.44 L400.83 183.32 L401.13 184.52 L401.43 185 L401.79 183.53 L402.14 179.49 L402.49 173.37 L403.04 162.97 L403.54 151.95 L403.94 137.26 L404.34 122.58 L404.94 102.99 L405.64 87.08 L406.24 76.68 L406.79 66.88 L407.24 62.6 L407.69 65.37 L408.14 70.91 L408.54 77 L409.24 96.95 L409.84 118 L410.44 108.56 L411.14 97.98 L411.74 91.4 L412.24 89.4 L412.69 94.52 L413.24 106.48 L413.74 120.14 L414.44 138.08 L415.14 154.3 L415.74 166.26 L416.19 174.8 L416.54 173.4 L416.99 172.2 L417.44 173.4 L417.84 176.5 L418.54 180.25 L419.04 183.25 L419.34 184.5 L419.64 185 L420 183.52 L420.35 179.47 L420.7 173.31 L421.25 162.86 L421.75 151.79 L422.15 137.03 L422.55 122.27 L423.15 102.59 L423.85 86.6 L424.45 76.14 L425 66.31 L425.45 62 L425.9 64.77 L426.35 70.31 L426.75 76.4 L427.45 96.35 L428.05 117.4 L428.65 107.5 L429.35 96.4 L429.95 89.5 L430.45 87.4 L430.9 92.61 L431.45 104.78 L431.95 118.68 L432.65 136.93 L433.35 153.44 L433.95 165.61 L434.4 174.3 L434.75 172.9 L435.2 171.7 L435.65 172.9 L436.05 176.16 L436.75 180.06 L437.25 183.18 L437.55 184.48 L437.85 185 L438.21 183.51 L438.56 179.42 L438.91 173.22 L439.46 162.68 L439.96 151.52 L440.36 136.64 L440.76 121.76 L441.36 101.92 L442.06 85.8 L442.66 75.26 L443.21 65.34 L443.66 61 L444.11 63.8 L444.56 69.4 L444.96 75.56 L445.66 95.72 L446.26 117 L446.86 106.57 L447.56 94.88 L448.16 87.61 L448.66 85.4 L449.11 90.67 L449.66 102.98 L450.16 117.04 L450.86 135.5 L451.56 152.2 L452.16 164.51 L452.61 173.3 L452.96 171.9 L453.41 170.7 L453.86 171.9 L454.26 175.16 L454.96 179.06 L455.46 182.18 L455.76 183.48 L456.06 184 L456.42 182.5 L456.77 178.38 L457.12 172.12 L457.67 161.5 L458.17 150.25 L458.57 135.25 L458.97 120.25 L459.57 100.25 L460.27 84 L460.87 73.38 L461.42 63.38 L461.87 59 L462.32 61.82 L462.77 67.46 L463.17 73.66 L463.87 93.97 L464.47 115.4 L465.07 105.37 L465.77 94.12 L466.37 87.13 L466.87 85 L467.32 90.24 L467.87 102.46 L468.37 116.43 L469.07 134.76 L469.77 151.35 L470.37 163.57 L470.82 172.3 L471.17 170.9 L471.62 169.7 L472.07 170.9 L472.47 173.84 L473.17 177.44 L473.67 180.32 L473.97 181.52 L474.27 182 L474.63 180.51 L474.98 176.42 L475.33 170.22 L475.88 159.68 L476.38 148.52 L476.78 133.64 L477.18 118.76 L477.78 98.92 L478.48 82.8 L479.08 72.26 L479.63 62.34 L480.08 58 L480.53 60.85 L480.98 66.55 L481.38 72.82 L482.08 93.34 L482.68 115 L483.28 104.97 L483.98 93.72 L484.58 86.73 L485.08 84.6 L485.53 89.83 L486.08 102.02 L486.58 115.96 L487.28 134.25 L487.98 150.8 L488.58 162.99 L489.03 171.7 L489.38 170.3 L489.83 169.1 L490.28 170.3 L490.68 173.43 L491.38 177.21 L491.88 180.24 L492.18 181.5 L492.48 182 L492.84 180.5 L493.19 176.38 L493.54 170.12 L494.09 159.5 L494.59 148.25 L494.99 133.25 L495.39 118.25 L495.99 98.25 L496.69 82 L497.29 71.38 L497.84 61.38 L498.29 57 L498.74 59.88 L499.19 65.64 L499.59 71.98 L500.29 92.71 L500.89 114.6 L501.49 103.97 L502.19 92.06 L502.79 84.65 L503.29 82.4 L503.74 87.71 L504.29 100.1 L504.79 114.26 L505.49 132.84 L506.19 149.66 L506.79 162.05 L507.24 170.9 L507.59 169.5 L508.04 168.3 L508.49 169.5 L508.89 172.7 L509.59 176.54 L510.09 179.61 L510.39 180.89 L510.69 181.4 L511.05 179.9 L511.4 175.76 L511.75 169.49 L512.3 158.83 L512.8 147.54 L513.2 132.49 L513.6 117.45 L514.2 97.38 L514.9 81.08 L515.5 70.42 L516.05 60.39 L516.5 56 L516.95 58.8 L517.4 64.4 L517.8 70.56 L518.5 90.72 L519.1 112 L519.7 102.1 L520.4 91 L521 84.1 L521.5 82 L521.95 87.26 L522.5 99.54 L523 113.57 L523.7 131.99 L524.4 148.65 L525 160.93 L525.45 169.7 L525.8 168.3 L526.25 167.1 L526.7 168.3 L527.1 171.88 L527.8 176.08 L528.3 179.44 L528.6 180.84 L528.9 181.4 L529.26 179.88 L529.61 175.71 L529.96 169.39 L530.51 158.65 L531.01 147.27 L531.41 132.1 L531.81 116.94 L532.41 96.71 L533.11 80.28 L533.71 69.54 L534.26 59.42 L534.71 55 L535.16 57.8 L535.61 63.4 L536.01 69.56 L536.71 89.72 L537.31 111 L537.91 101.1 L538.61 90 L539.21 83.1 L539.71 81 L540.16 86.24 L540.71 98.46 L541.21 112.43 L541.91 130.76 L542.61 147.35 L543.21 159.57 L543.66 168.3 L544.01 166.9 L544.46 165.7 L544.91 166.9 L545.31 170.8 L546.01 175.3 L546.51 178.9 L546.81 180.4 L547.11 181" fill="none" stroke="#000" stroke-width="1.0" stroke-linejoin="round"/></g>
<rect x="43.6" y="8.8" width="203.8" height="215.6" fill="none" stroke="#555" stroke-width="1.25"/>
<path d="M43.6 224.4v-3 M43.6 8.8v3 M84.36 224.4v-3 M84.36 8.8v3 M125.12 224.4v-3 M125.12 8.8v3 M165.88 224.4v-3 M165.88 8.8v3 M206.64 224.4v-3 M206.64 8.8v3 M247.4 224.4v-3 M247.4 8.8v3 M43.6 8.8h3 M247.4 8.8h-3 M43.6 62.7h3 M247.4 62.7h-3 M43.6 116.6h3 M247.4 116.6h-3 M43.6 170.5h3 M247.4 170.5h-3 M43.6 224.4h3 M247.4 224.4h-3 " stroke="#555" stroke-width="1.25" fill="none"/>
<text transform="translate(43.6 240.8) scale(1 1.03)" text-anchor="middle" class="tk">1570</text>
<text transform="translate(84.36 240.8) scale(1 1.03)" text-anchor="middle" class="tk">1575</text>
<text transform="translate(125.12 240.8) scale(1 1.03)" text-anchor="middle" class="tk">1580</text>
<text transform="translate(165.88 240.8) scale(1 1.03)" text-anchor="middle" class="tk">1585</text>
<text transform="translate(206.64 240.8) scale(1 1.03)" text-anchor="middle" class="tk">1590</text>
<text transform="translate(247.4 240.8) scale(1 1.03)" text-anchor="middle" class="tk">1595</text>
<text transform="translate(39.5 13.6)" text-anchor="end" class="tk">−20</text>
<text transform="translate(39.5 67.5)" text-anchor="end" class="tk">−35</text>
<text transform="translate(39.5 121.4)" text-anchor="end" class="tk">−50</text>
<text transform="translate(39.5 175.3)" text-anchor="end" class="tk">−65</text>
<text transform="translate(39.5 229.2)" text-anchor="end" class="tk">−80</text>
<text x="145.5" y="257.3" text-anchor="middle" class="lb">Wavelength (nm)</text>
<text transform="translate(16.1 116.6) rotate(-90)" text-anchor="middle" class="lb">Power (dBm)</text>
<path d="M211.7 20.5h15.8" stroke="#555" stroke-width="1.15" fill="none"/>
<text x="228.5" y="24.7" class="lg">FP</text>
<rect x="332.7" y="8.8" width="203" height="215.6" fill="none" stroke="#555" stroke-width="1.25"/>
<path d="M332.7 224.4v-3 M332.7 8.8v3 M383.45 224.4v-3 M383.45 8.8v3 M434.2 224.4v-3 M434.2 8.8v3 M484.95 224.4v-3 M484.95 8.8v3 M535.7 224.4v-3 M535.7 8.8v3 M332.7 8.8h3 M535.7 8.8h-3 M332.7 62.7h3 M535.7 62.7h-3 M332.7 116.6h3 M535.7 116.6h-3 M332.7 170.5h3 M535.7 170.5h-3 M332.7 224.4h3 M535.7 224.4h-3 " stroke="#555" stroke-width="1.25" fill="none"/>
<text transform="translate(332.7 240.8) scale(1 1.03)" text-anchor="middle" class="tk">1578</text>
<text transform="translate(383.45 240.8) scale(1 1.03)" text-anchor="middle" class="tk">1579</text>
<text transform="translate(434.2 240.8) scale(1 1.03)" text-anchor="middle" class="tk">1580</text>
<text transform="translate(484.95 240.8) scale(1 1.03)" text-anchor="middle" class="tk">1581</text>
<text transform="translate(535.7 240.8) scale(1 1.03)" text-anchor="middle" class="tk">1582</text>
<text transform="translate(328.6 13.6)" text-anchor="end" class="tk">−20</text>
<text transform="translate(328.6 67.5)" text-anchor="end" class="tk">−35</text>
<text transform="translate(328.6 121.4)" text-anchor="end" class="tk">−50</text>
<text transform="translate(328.6 175.3)" text-anchor="end" class="tk">−65</text>
<text transform="translate(328.6 229.2)" text-anchor="end" class="tk">−80</text>
<text x="434.2" y="257.3" text-anchor="middle" class="lb">Wavelength (nm)</text>
<text transform="translate(305.2 116.6) rotate(-90)" text-anchor="middle" class="lb">Power (dBm)</text>
<path d="M500 20.5h15.8" stroke="#555" stroke-width="1.15" fill="none"/>
<text x="516.8" y="24.7" class="lg">FP</text>
<text x="138.2" y="278" text-anchor="middle" class="cp">(<tspan font-weight="bold">a</tspan>)</text>
<text x="426.6" y="278" text-anchor="middle" class="cp">(<tspan font-weight="bold">b</tspan>)</text>
</svg>
</body></html>
